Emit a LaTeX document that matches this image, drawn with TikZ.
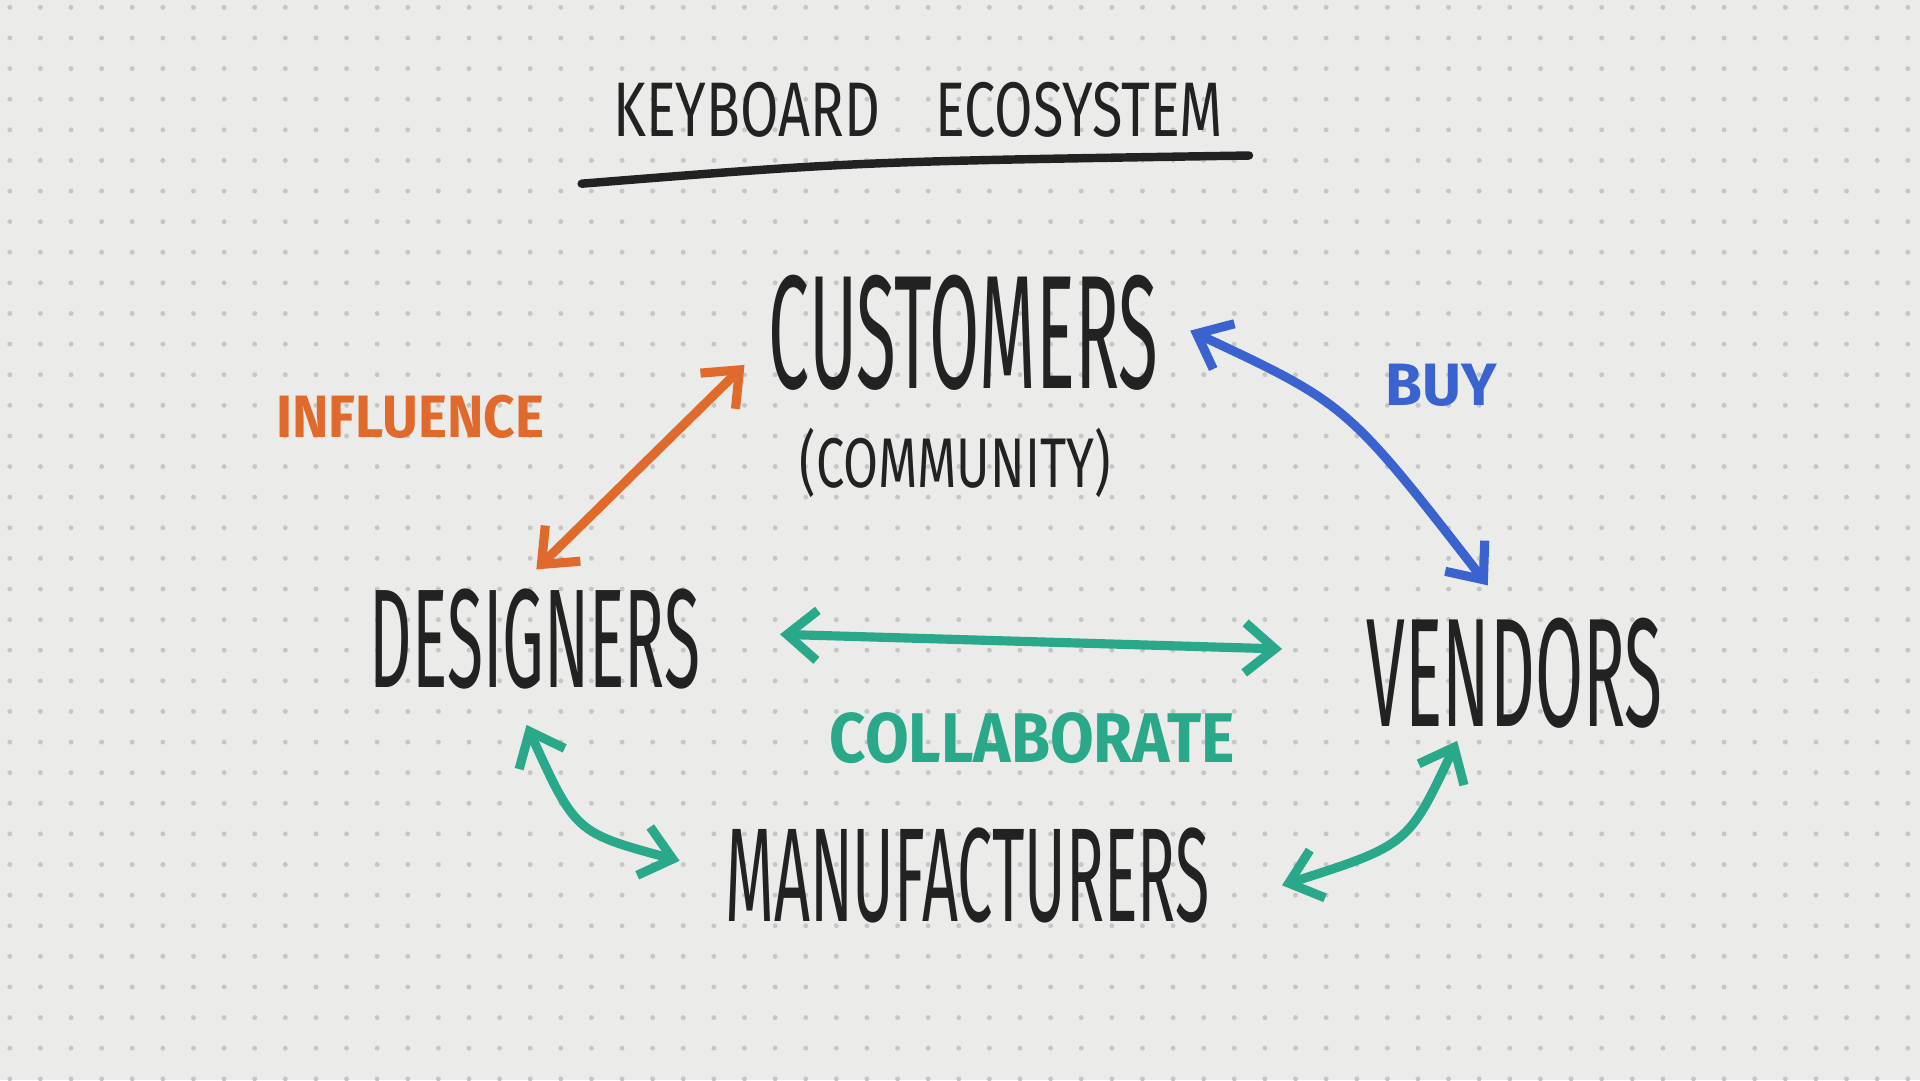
\documentclass[tikz,border=0pt]{standalone}
\usepackage{fontspec}
\setmainfont{Fira Sans}
\usetikzlibrary{arrows.meta}
\definecolor{board}{HTML}{EBEBEA}
\definecolor{ink}{HTML}{222222}
\definecolor{inforange}{HTML}{E06A2B}
\definecolor{buyblue}{HTML}{3A63D0}
\definecolor{colteal}{HTML}{2AA88A}
\newcommand{\narrow}[2]{\scalebox{#1}[1]{#2}}
\begin{document}
\begin{tikzpicture}[
    x=0.012245cm, y=-0.012245cm,
    actor/.style={text=ink, inner sep=2pt},
    label/.style={inner sep=1pt, font=\fontsize{17}{17}\selectfont\bfseries},
    link/.style={draw, line width=2.6pt, {Straight Barb[length=3mm,width=5mm]}-{Straight Barb[length=3mm,width=5mm]}}
]
\fill[board] (0,0) rectangle (1568,882);
\useasboundingbox (0,0) rectangle (1568,882);
% dot grid
\foreach \i in {0,...,62} {
  \foreach \j in {0,...,35} {
    \fill[gray!45] (\i*25+8,\j*25+6) circle (0.7pt);
  }
}

% Title
\node[text=ink, font=\fontsize{22}{22}\selectfont] (title) at (750,90) {\narrow{0.72}{KEYBOARD\quad ECOSYSTEM}};
\draw[ink, line width=2.4pt, line cap=round] (475,150) .. controls (700,132) .. (1020,127);

% Actors
\node[actor, font=\fontsize{46}{46}\selectfont, inner sep=0pt] (customers) at (787,272) {\narrow{0.45}{CUSTOMERS}};
\node[text=ink, font=\fontsize{20}{20}\selectfont, inner sep=0pt] (community) at (780,378) {\narrow{0.72}{(COMMUNITY)}};
\node[actor, font=\fontsize{40}{40}\selectfont] (designers) at (437,522) {\narrow{0.47}{DESIGNERS}};
\node[actor, font=\fontsize{44}{44}\selectfont] (vendors) at (1237,550) {\narrow{0.45}{VENDORS}};
\node[actor, font=\fontsize{38}{38}\selectfont] (manufacturers) at (790,715) {\narrow{0.47}{MANUFACTURERS}};

% Relation labels
\node[label, text=inforange] (influence) at (335,340) {\narrow{0.92}{INFLUENCE}};
\node[label, text=buyblue] (buy) at (1177,315) {BUY};
\node[label, text=colteal, font=\fontsize{20}{20}\selectfont\bfseries] (collaborate) at (843,603) {\narrow{0.9}{COLLABORATE}};

% Link ends
\coordinate (d1) at (438,465);  \coordinate (c1) at (608,298);
\coordinate (c2) at (972,270);  \coordinate (v1) at (1215,478);
\coordinate (d2) at (637,518);  \coordinate (v2) at (1047,530);
\coordinate (d3) at (430,592);  \coordinate (m1) at (555,703);
\coordinate (m2) at (1047,723); \coordinate (v3) at (1190,605);

% Links
\draw[link, inforange] (d1) -- (c1);
\draw[link, buyblue] (c2) .. controls (1100,330) .. (v1);
\draw[link, colteal] (d2) -- (v2);
\draw[link, colteal] (d3) .. controls (470,680) .. (m1);
\draw[link, colteal] (m2) .. controls (1150,690) .. (v3);
\end{tikzpicture}
\end{document}
